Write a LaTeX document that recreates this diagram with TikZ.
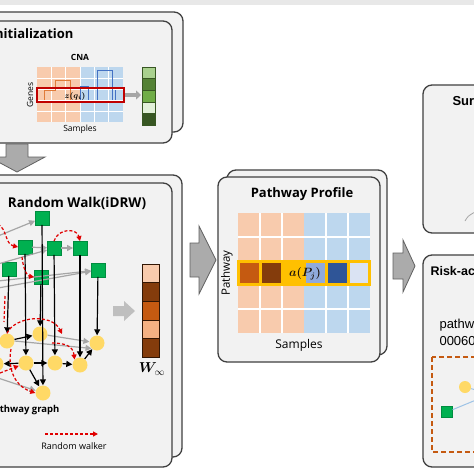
\documentclass[tikz,border=0pt]{standalone}
\usepackage{fontspec}
\usepackage{amsmath,bm}
\setmainfont{Open Sans}
\newfontfamily\arialf{Liberation Sans}
\usetikzlibrary{arrows.meta}
\definecolor{cardfill}{HTML}{F2F2F2}
\definecolor{cardline}{HTML}{404040}
\definecolor{peach}{HTML}{F8CBAD}
\definecolor{lblue}{HTML}{BDD7EE}
\definecolor{sqgreen}{HTML}{00B050}
\definecolor{cyellow}{HTML}{FFD966}
\definecolor{rwred}{HTML}{E00000}
\definecolor{agray}{HTML}{A6A6A6}
\definecolor{hlgold}{HTML}{FFC000}
\definecolor{boxred}{HTML}{C00000}
\definecolor{stepor}{HTML}{E07B39}
\definecolor{stepbl}{HTML}{4472C4}
\definecolor{dkbrown}{HTML}{843C0C}
\definecolor{orbrown}{HTML}{C55A11}
\definecolor{ltor}{HTML}{F4B183}
\definecolor{gA}{HTML}{A9D18E}
\definecolor{gB}{HTML}{548235}
\definecolor{gC}{HTML}{70AD47}
\definecolor{gD}{HTML}{E2F0D9}
\definecolor{gE}{HTML}{385723}
\definecolor{bA}{HTML}{8FAADC}
\definecolor{bB}{HTML}{2F5597}
\definecolor{bC}{HTML}{DAE3F3}
\definecolor{thinblue}{HTML}{9DC3E6}
\tikzset{
 card/.style={draw=cardline, fill=cardfill, line width=1.3pt, rounded corners=9pt},
 blockarrow/.style={draw=black!62, fill=black!33, line width=0.8pt},
 sq/.style={rectangle, fill=sqgreen, draw=sqgreen!80!black, line width=0.3pt, minimum size=13.5pt, inner sep=0pt},
 circ/.style={circle, fill=cyellow, minimum size=15pt, inner sep=0pt},
 gedge/.style={draw=agray, line width=1.2pt, -{Triangle[length=6pt,width=6pt]}},
 redge/.style={draw=rwred, dash pattern=on 3pt off 2pt, line width=1.2pt, -{Triangle[length=5pt,width=5pt]}},
 bedge/.style={draw=black, line width=1.2pt, -{Triangle[length=6pt,width=6pt]}},
 wcell/.style={draw=black!75!orbrown, line width=0.6pt},
}
\begin{document}
\begin{tikzpicture}[x=1pt,y=-1pt]
\useasboundingbox (0,0) rectangle (474,474);
\fill[white] (0,0) rectangle (474,474);
\begin{scope}
\clip (0,0) rectangle (474,474);
\fill[black!9] (0,0) rectangle (474,5);

% ---------- Initialization ----------
\draw[card] (-30,12) rectangle (183,132);
\draw[card] (-40,21) rectangle (172,143);
\node[font=\bfseries\fontsize{13}{15}\selectfont, anchor=east] (inittitle) at (77,34) {Initialization};
\node[font=\bfseries\fontsize{8.5}{10}\selectfont] (cna) at (80,57) {CNA};
\fill[peach] (37,67) rectangle (80,122);
\fill[lblue] (80,67) rectangle (123,122);
\foreach \gx in {51.3,65.7,80,94.3,108.7} \draw[white,line width=0.8pt] (\gx,67) -- (\gx,122);
\foreach \gy in {78,89,100,111} \draw[white,line width=0.8pt] (37,\gy) -- (123,\gy);
\draw[stepor, line width=1pt] (44,100) -- (44,90) -- (55,90) -- (55,80) -- (70,80) -- (70,100);
\draw[stepbl, line width=1pt] (80,100) -- (80,86) -- (88,86) -- (88,100);
\draw[stepbl, line width=1pt] (97,100) -- (97,70) -- (112,70) -- (112,100);
\draw[stepbl, line width=1pt] (115,100) -- (115,90);
\node[draw=boxred, line width=1.8pt, minimum width=87pt, minimum height=14pt, inner sep=0pt] (zrow) at (80.5,95) {};
\node[font=\fontsize{8}{9}\selectfont] (zlab) at (75,96) {$\bm{z(q_i)}$};
\node[rotate=90, font=\fontsize{8.5}{9}\selectfont] (genes) at (30,95) {Genes};
\node[font=\fontsize{8.5}{9}\selectfont] (samp1) at (80,129) {Samples};
\coordinate (gbarin) at (141,95);
\draw[agray, line width=3.5pt, -{Triangle[length=5pt,width=9pt]}] (zrow.east) -- (gbarin);
\fill[gA] (142,67) rectangle (155,78.6);
\fill[gB] (142,78.6) rectangle (155,90.2);
\fill[gC] (142,90.2) rectangle (155,101.8);
\fill[gD] (142,101.8) rectangle (155,113.4);
\fill[gE] (142,113.4) rectangle (155,125);
\foreach \gy in {78.6,90.2,101.8,113.4} \draw[gE, line width=0.5pt] (142,\gy) -- (155,\gy);
\draw[gE, line width=0.6pt] (142,67) rectangle (155,125);

% ---------- arrow down ----------
\draw[blockarrow] (6,144) -- (28,144) -- (28,157) -- (45,157) -- (17,172) -- (-11,157) -- (6,157) -- cycle;

% ---------- Random walk ----------
\draw[card] (-30,175) rectangle (182,457);
\draw[card] (-40,183) rectangle (172,467);
\node[font=\bfseries\fontsize{13.5}{15}\selectfont] (rwtitle) at (77,203) {Random Walk(iDRW)};

\coordinate (gl1) at (-2,236);
\coordinate (gl2) at (-2,264);
\coordinate (gl3) at (-2,281);
\coordinate (gl4) at (-2,288);
\coordinate (gl5) at (-2,378);

\node[sq] (s1) at (42,218) {};
\node[sq] (s2) at (25,247) {};
\node[sq] (s3) at (54,248) {};
\node[sq] (s4) at (80,248) {};
\node[sq] (s5) at (9,269) {};
\node[sq] (s6) at (41,277) {};
\node[sq] (s7) at (98,270) {};
\node[circ] (c1) at (40,334) {};
\node[circ] (c2) at (7,341) {};
\node[circ] (c3) at (97,343) {};
\node[circ] (c4) at (26,363) {};
\node[circ] (c5) at (55,363) {};
\node[circ] (c6) at (80,365) {};
\node[circ] (c7) at (43,393) {};
\node[circ] (c8) at (-4,364) {};

% gray
\draw[gedge] (gl1) -- (s1);
\draw[gedge] (gl2) -- (s3);
\draw[gedge] (s2) -- (s3);
\draw[gedge] (s3) -- (s4);
\draw[gedge] (gl3) -- (s7);
\draw[gedge] (gl4) -- (s7);
\draw[gedge] (c1) -- (c3);
\draw[gedge] (c2.east) -- (c3.south west);
\draw[gedge] (gl5) -- (c7);

% black
\draw[bedge] (s1) -- (c7);
\draw[bedge] (s6) -- (c1);
\draw[bedge] (s2) -- (c4);
\draw[bedge] (s3) -- (c5);
\draw[bedge] (s4) -- (c6);
\draw[bedge] (s5) -- (c2);
\draw[bedge] (s7) -- (c3);
\draw[bedge] (c2) -- (c1);
\draw[bedge] (c4) -- (c5);
\draw[bedge] (c5) -- (c6);
\draw[bedge] (c6) -- (c3);
\draw[bedge] (c4) -- (c7);
\draw[bedge] (c4) -- (c8);

% red random walker
\coordinate (rl1) at (-2,224);
\coordinate (rl2) at (22,257);
\coordinate (rl3a) at (5,296);
\coordinate (rl3b) at (4,322);
\coordinate (ra1e) at (62,334);
\coordinate (ra2s) at (52,343);
\coordinate (rl4s) at (11,349);
\coordinate (rl5) at (0,373);
\draw[redge] (s3.north) .. controls (58,228) and (77,228) .. (s4.north);
\draw[redge] (rl1) .. controls (7,229) and (5,244) .. (s2.west);
\draw[redge] (rl2) .. controls (23,268) and (27,276) .. (s6.west);
\draw[redge, -] (rl3a) -- (rl3b);
\draw[redge] (c2.north) .. controls (15,316) and (52,313) .. (ra1e);
\draw[redge] (ra2s) .. controls (65,343) and (73,346) .. (c6.north west);
\draw[redge] (rl4s) .. controls (8,365) and (12,385) .. (c7.west);
\draw[redge] (rl5) -- (c4);

% arrow to W bar
\fill[black!25] (113,306) -- (124,306) -- (124,301) -- (135,311) -- (124,321) -- (124,316) -- (113,316) -- cycle;
\fill[peach] (142,264) rectangle (159,282.6);
\fill[dkbrown] (142,282.6) rectangle (159,301.2);
\fill[orbrown] (142,301.2) rectangle (159,319.8);
\fill[ltor] (142,319.8) rectangle (159,338.4);
\fill[dkbrown] (142,338.4) rectangle (159,357);
\foreach \gy in {282.6,301.2,319.8,338.4} \draw[wcell] (142,\gy) -- (159,\gy);
\draw[wcell] (142,264) rectangle (159,357);
\node[font=\fontsize{14}{16}\selectfont] (winf) at (152,369) {$\bm{W}_{\infty}$};

\node[font=\bfseries\fontsize{9.5}{11}\selectfont, anchor=east] (pglabel) at (63,410) {Pathway graph};
\coordinate (lgs) at (45,434);
\coordinate (lge) at (98,434);
\draw[redge] (lgs) -- (lge);
\node[font=\fontsize{9}{11}\selectfont] (lgtext) at (74,446) {Random walker};

% ---------- arrow right 1 ----------
\draw[blockarrow] (190,243) -- (199,243) -- (199,226) -- (216,260) -- (199,294) -- (199,277) -- (190,277) -- cycle;

% ---------- Pathway profile ----------
\draw[card] (227,170) rectangle (387,355);
\draw[card] (218,177) rectangle (380,362);
\node[font=\bfseries\fontsize{13}{15}\selectfont] (pptitle) at (302,194) {Pathway Profile};
\fill[peach] (238,213) rectangle (304,333);
\fill[lblue] (304,213) rectangle (370,333);
\foreach \gx in {260,282,326,348} \draw[white,line width=1.2pt] (\gx,213) -- (\gx,333);
\foreach \gy in {237,261,285,309} \draw[white,line width=1.2pt] (238,\gy) -- (370,\gy);
\fill[hlgold] (238,261) rectangle (370,285);
\fill[orbrown] (240,263) rectangle (259,283);
\fill[dkbrown] (262,263) rectangle (281,283);
\fill[bA] (306,263) rectangle (325,283);
\fill[bB] (328,263) rectangle (347,283);
\fill[bC] (350,263) rectangle (368,283);
\draw[hlgold, line width=2.5pt] (238,261) rectangle (370,285);
\node[font=\fontsize{12}{14}\selectfont, text=black!85!brown] (alab) at (305,274) {$\bm{a(P_j)}$};
\node[rotate=90, font=\fontsize{11.5}{13}\selectfont] (pwlab) at (227,273) {Pathway};
\node[font=\fontsize{12}{14}\selectfont] (samp2) at (299,345) {Samples};

% ---------- arrow right 2 ----------
\draw[blockarrow] (393,253) -- (403,253) -- (403,240) -- (415,266) -- (403,292) -- (403,279) -- (393,279) -- cycle;

% ---------- right panels ----------
\draw[card] (423,85) rectangle (520,233);
\node[anchor=west, font=\arialf\bfseries\fontsize{13}{15}\selectfont] (survtitle) at (449,102) {Survival analysis};
\coordinate (sv1) at (465,221);
\coordinate (sv2) at (475,212);
\draw[agray, line width=0.8pt] (sv1) .. controls (468,216) .. (sv2);

\draw[card] (423,255) rectangle (520,467);
\node[anchor=west, font=\arialf\bfseries\fontsize{12.5}{14}\selectfont] (risktitle) at (427,272) {Risk-active pathway};
\node[anchor=west, font=\arialf\fontsize{13}{15}\selectfont] (pw1) at (436,325) {pathway};
\node[anchor=west, font=\arialf\fontsize{13}{15}\selectfont] (pw2) at (436,341) {00060};
\draw[orbrown, dash pattern=on 5pt off 3pt, line width=1.5pt] (432,357) rectangle (495,452);
\node[circ, minimum size=12pt] (rc1) at (465,387) {};
\node[sq, minimum size=11pt] (rs1) at (447,412) {};
\coordinate (rb1) at (476,400);
\coordinate (rb2) at (476,390);
\draw[thinblue, line width=1pt] (rs1) -- (rb1);
\draw[thinblue, line width=1pt] (rc1) -- (rb2);
\end{scope}
\end{tikzpicture}
\end{document}
